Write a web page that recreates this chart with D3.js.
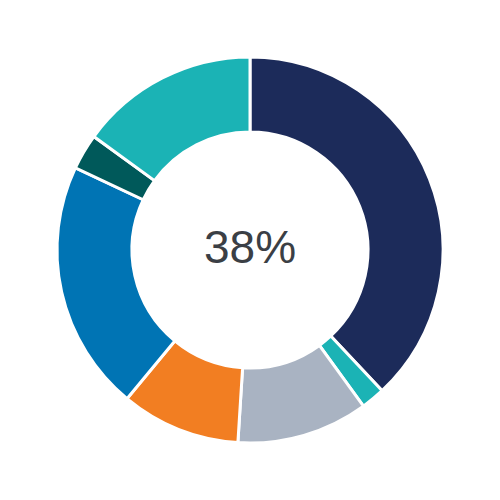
<!DOCTYPE html>
<html>
<head>
<meta charset="utf-8">
<script src="https://cdn.jsdelivr.net/npm/d3@7"></script>
<style>
  html, body { margin: 0; padding: 0; background: #fff; }
</style>
</head>
<body>
<div id="chart"></div>
<script>
// Datos del gráfico (porcentajes, en sentido horario desde arriba)
var categories = ["A", "B", "C", "D", "E", "F", "G"];
var values = [38, 2, 11, 10, 21, 3, 15];
var colors = ["#1c2b5a", "#1bb3b5", "#a9b3c2", "#f27e22", "#0074b4", "#00595a", "#1bb3b5"];
var centerLabel = "38%";

var width = 500;
var height = 500;
var outerRadius = 193;
var innerRadius = 118;

var svg = d3.select("#chart")
    .append("svg")
    .attr("width", width)
    .attr("height", height);

var g = svg.append("g")
    .attr("transform", "translate(" + width / 2 + "," + height / 2 + ")");

var data = categories.map(function(c, i) { return { name: c, value: values[i], color: colors[i] }; });

var pie = d3.pie()
    .sort(null)
    .value(function(d) { return d.value; });

var arc = d3.arc()
    .innerRadius(innerRadius)
    .outerRadius(outerRadius);

g.selectAll("path")
    .data(pie(data))
    .enter()
    .append("path")
    .attr("d", arc)
    .attr("fill", function(d) { return d.data.color; })
    .attr("stroke", "#fff")
    .attr("stroke-width", 3);

// Etiqueta central
g.append("text")
    .attr("x", 0)
    .attr("y", 13)
    .attr("text-anchor", "middle")
    .attr("font-family", "Liberation Sans, Arial, sans-serif")
    .attr("font-size", 46)
    .attr("fill", "#3b3f45")
    .text(centerLabel);
</script>
</body>
</html>
